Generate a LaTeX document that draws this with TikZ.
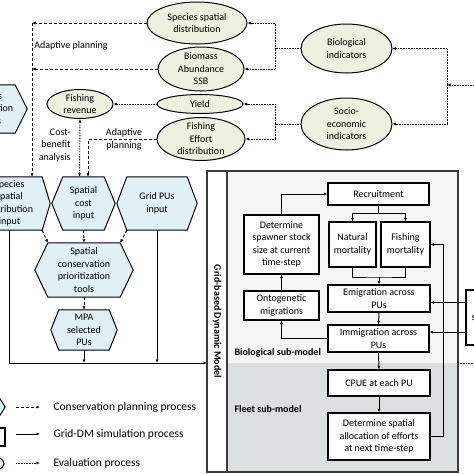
\documentclass[tikz,border=0pt]{standalone}
\usepackage{fontspec}
\setmainfont{Carlito}
\usepackage{tikz}
\usetikzlibrary{shapes.geometric, arrows.meta, positioning, calc, backgrounds}
\definecolor{evalfill}{HTML}{EBF1DE}
\definecolor{planfill}{HTML}{E1F0F5}
\definecolor{bioarea}{HTML}{F4F5F5}
\definecolor{fleetarea}{HTML}{DCDFDF}
\definecolor{framegray}{HTML}{3A3A3A}
\tikzset{
  nodetext/.style={font=\fontsize{10}{12.5}\selectfont, align=center},
  evalnode/.style={ellipse, draw, line width=1pt, fill=evalfill, inner sep=0pt},
  plannode/.style={rectangle, inner sep=0pt, nodetext},
  simnode/.style={rectangle, draw, line width=1.1pt, fill=white, inner sep=0pt, nodetext},
  hexline/.style={draw, line width=1pt, fill=planfill},
  simline/.style={line width=1pt},
  simarrow/.style={line width=1pt, -{Latex[length=3.5pt,width=3pt]}},
  planarrow/.style={line width=1pt, dash pattern=on 3pt off 2pt, -{Latex[length=3.5pt,width=3pt]}},
  evalline/.style={line width=0.9pt, dash pattern=on 0.8pt off 0.8pt},
  evalarrow/.style={evalline, -{Latex[length=3.5pt,width=3pt]}},
  evalboth/.style={evalline, {Latex[length=3.5pt,width=3pt]}-{Latex[length=3.5pt,width=3pt]}},
  legtext/.style={font=\fontsize{11.5}{14}\selectfont, anchor=west},
  subtitle/.style={font=\fontsize{10}{12}\selectfont\bfseries, anchor=west}
}
\newcommand{\hexagon}[2]{%
  \begin{scope}[on background layer]
    \path[hexline] ($(#1.north west)+(#2,0)$) -- ($(#1.north east)+(-#2,0)$) -- (#1.east)
      -- ($(#1.south east)+(-#2,0)$) -- ($(#1.south west)+(#2,0)$) -- (#1.west) -- cycle;
  \end{scope}}

\begin{document}
\begin{tikzpicture}[x=1pt, y=-1pt]
  \useasboundingbox (0,0) rectangle (474,474);
  \clip (0,0) rectangle (474,474);

  % model frame
  \fill[bioarea] (227,171) rectangle (458,363);
  \fill[fleetarea] (227,363) rectangle (458,472);
  \node[draw=framegray, line width=1.2pt, minimum width=251, minimum height=301, inner sep=0pt] (gridModel) at (332.5,321.5) {};
  \draw[framegray, line width=1.2pt] (227,171) -- (227,472);
  \node[rotate=-90, font=\fontsize{10}{12}\selectfont\bfseries] (gridLbl) at (217,321.5) {Grid-based Dynamic Model};
  \node[subtitle] (bioLbl) at (231,353) {Biological sub-model};
  \node[subtitle] (fleetLbl) at (231,409) {Fleet sub-model};

  % evaluation ellipses
  \node[evalnode, minimum width=100, minimum height=42, label={[nodetext]center:{Species spatial\\distribution}}] (sppDist) at (197,23) {};
  \node[evalnode, minimum width=86, minimum height=44, label={[nodetext]center:{Biomass\\Abundance\\SSB}}] (biomass) at (201,69) {};
  \node[evalnode, minimum width=86, minimum height=19, label={[nodetext]center:Yield}] (yield) at (200,104) {};
  \node[evalnode, minimum width=88, minimum height=43, label={[nodetext]center:{Fishing\\Effort\\distribution}}] (effort) at (201,139) {};
  \node[evalnode, minimum width=66, minimum height=29, label={[nodetext]center:{Fishing\\revenue}}] (revenue) at (80,104) {};
  \node[evalnode, minimum width=91, minimum height=49, label={[nodetext]center:{Biological\\indicators}}] (bioInd) at (346.5,48.5) {};
  \node[evalnode, minimum width=91, minimum height=52, label={[nodetext]center:{Socio-\\economic\\indicators}}] (socInd) at (346.5,124) {};

  % planning hexagons
  \node[plannode, minimum width=80, minimum height=48] (consTarget) at (-13,109) {Species\\conservation\\targets};
  \node[plannode, minimum width=81, minimum height=53] (sppInput) at (9.5,203.5) {Species\\spatial\\distribution\\input};
  \node[plannode, minimum width=63, minimum height=53] (costInput) at (83.5,203.5) {Spatial\\cost\\input};
  \node[plannode, minimum width=80, minimum height=53] (gridPU) at (157,203.5) {Grid PUs\\input};
  \node[plannode, minimum width=98, minimum height=54] (prioTools) at (84,270) {Spatial\\conservation\\prioritization\\tools};
  \node[plannode, minimum width=66, minimum height=40] (mpa) at (84,330) {MPA\\selected\\PUs};
  \hexagon{consTarget}{12}
  \hexagon{sppInput}{8}
  \hexagon{costInput}{11}
  \hexagon{gridPU}{10}
  \hexagon{prioTools}{13}
  \hexagon{mpa}{8}

  % simulation boxes
  \node[simnode, minimum width=101, minimum height=22] (recruit) at (378.5,194) {Recruitment};
  \node[simnode, minimum width=47, minimum height=45] (natMort) at (352.5,244.5) {Natural\\mortality};
  \node[simnode, minimum width=49, minimum height=45] (fishMort) at (405.5,244.5) {Fishing\\mortality};
  \node[simnode, minimum width=102, minimum height=27] (emigr) at (379,298.5) {Emigration across\\PUs};
  \node[simnode, minimum width=75, minimum height=59] (spawner) at (281.5,244.5) {Determine\\spawner stock\\size at current\\time-step};
  \node[simnode, minimum width=75, minimum height=29] (ontoMig) at (281.5,305.5) {Ontogenetic\\migrations};
  \node[simnode, minimum width=101, minimum height=27] (immigr) at (378.5,338.5) {Immigration across\\PUs};
  \node[simnode, minimum width=102, minimum height=26] (cpue) at (379,383) {CPUE at each PU};
  \node[simnode, minimum width=102, minimum height=47] (effAlloc) at (379,436.5) {Determine spatial\\allocation of efforts\\at next time-step};
  \node[simnode, minimum width=74, minimum height=55,
    label={[nodetext, inner sep=0pt, anchor=west, xshift=6pt]west:{Habitat\\suitability and\\movement}}] (habitatBox) at (503,317.5) {};

  % labels
  \node[nodetext] (adaptLbl) at (71,46) {Adaptive planning};
  \node[nodetext] (adaptLblB) at (124,139.5) {Adaptive\\planning};
  \node[nodetext, align=right, anchor=east] (costLbl) at (74,145.5) {Cost-\\benefit\\analysis};

  % planning connectors
  \coordinate (planCorner) at (32,23);
  \draw[planarrow] (sppDist.west) -- (planCorner);
  \draw[planarrow] (biomass.west) -- (planCorner |- biomass.west);
  \draw[planarrow] (planCorner) -- (planCorner |- sppInput.north);
  \draw[planarrow] (effort.west) -| ($(costInput.north)+(4.5,0)$);
  \draw[planarrow] ($(sppInput.south east)+(-8,0)$) -- ($(prioTools.north west)+(13,0)$);
  \draw[planarrow] (costInput.south) -- (prioTools.north);
  \draw[planarrow] ($(gridPU.south west)+(10,0)$) -- ($(prioTools.north east)+(-13,0)$);
  \draw[planarrow] (prioTools.south) -- (mpa.north);

  % evaluation connectors
  \draw[evalarrow] (yield.west) -- (revenue.east);
  \draw[evalboth] (revenue.south) -- ($(costInput.north)+(-4,0)$);
  \coordinate (bioJoin) at (275,48.5);
  \draw[evalline] (bioInd.west) -- (bioJoin);
  \draw[evalarrow] (bioJoin) |- (sppDist.east);
  \draw[evalarrow] (bioJoin) |- (biomass.east);
  \coordinate (socJoin) at (275,124);
  \draw[evalline] (socInd.west) -- (socJoin);
  \draw[evalarrow] (socJoin) |- (yield.east);
  \draw[evalarrow] (socJoin) |- (effort.east);
  \coordinate (indJoin) at (447,85);
  \coordinate (indFeed) at (480,85);
  \draw[evalarrow] (indFeed) -- (indJoin);
  \draw[evalarrow] (indJoin) |- (bioInd.east);
  \draw[evalarrow] (indJoin) |- (socInd.east);
  \coordinate (modelOut) at (458,363);
  \coordinate (modelOutEnd) at (480,363);
  \draw[evalline] (modelOut) -- (modelOutEnd);

  % simulation connectors
  \coordinate (modelIn) at (207,363);
  \draw[simarrow] (sppInput.south) |- (modelIn);
  \draw[simarrow] (mpa.south) -- (mpa.south |- modelIn);
  \draw[simarrow] (gridPU.south) -- (gridPU.south |- modelIn);
  \draw[simarrow] (spawner.north) |- (recruit.west);
  \draw[simarrow] (ontoMig.north) -- (spawner.south);
  \coordinate (recSplit) at (378.5,213);
  \draw[simline] (recruit.south) -- (recSplit);
  \draw[simarrow] (recSplit) -| (natMort.north);
  \draw[simarrow] (recSplit) -| (fishMort.north);
  \coordinate (mortJoin) at (379,277);
  \draw[simline] (natMort.south) |- (mortJoin) -| (fishMort.south);
  \draw[simarrow] (mortJoin) -- (emigr.north);
  \draw[simarrow] (emigr.south) -- (immigr.north);
  \draw[simarrow] (immigr.west) -| (ontoMig.south);
  \draw[simarrow] (immigr.south) -- (cpue.north);
  \draw[simarrow] (cpue.south) -- (effAlloc.north);
  \coordinate (feedTop) at (443,244.5);
  \draw[simarrow] (effAlloc.east) -| (feedTop) -- (fishMort.east);
  \draw[simarrow] ($(habitatBox.west)+(0,-15)$) -- ($(emigr.east)+(0,4)$);
  \draw[simarrow] ($(habitatBox.west)+(0,14.5)$) -- ($(immigr.east)+(0,-6.5)$);

  % legend
  \node[plannode, minimum width=30, minimum height=22] (legHex) at (-10,407) {};
  \hexagon{legHex}{7}
  \node[simnode, minimum width=30, minimum height=18] (legRect) at (-10,437) {};
  \node[evalnode, minimum width=32, minimum height=17] (legEll) at (-12,463.5) {};
  \coordinate (legPlanA) at (16,407);
  \coordinate (legPlanB) at (40,407);
  \coordinate (legSimA) at (16,434);
  \coordinate (legSimB) at (40,434);
  \coordinate (legEvalA) at (16,463);
  \coordinate (legEvalB) at (40,463);
  \draw[planarrow] (legPlanA) -- (legPlanB);
  \draw[simarrow] (legSimA) -- (legSimB);
  \draw[evalarrow] (legEvalA) -- (legEvalB);
  \node[legtext] (legPlan) at (50,407) {Conservation planning process};
  \node[legtext] (legSim) at (50,434) {Grid-DM simulation process};
  \node[legtext] (legEval) at (50,463) {Evaluation process};
\end{tikzpicture}
\end{document}
